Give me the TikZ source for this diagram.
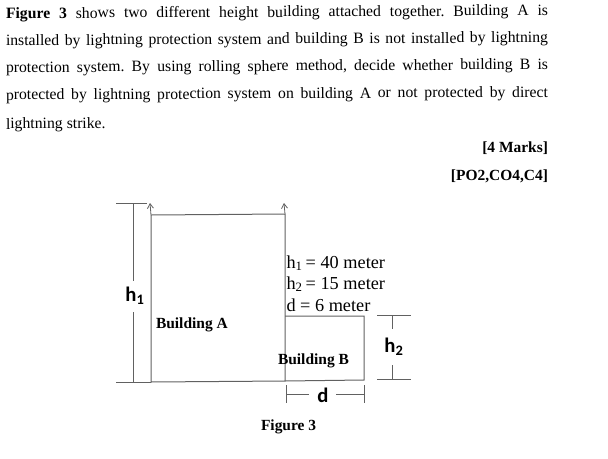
\documentclass[tikz,border=0pt]{standalone}
\usepackage{fontspec}
\setmainfont{Liberation Serif}
\newfontfamily\dimfont{Carlito}
\newcommand{\bodyline}[1]{\makebox[406.5pt][s]{#1}}
\frenchspacing
\tikzset{
  x=0.75pt,y=-0.75pt,
  every node/.style={inner sep=0pt,outer sep=0pt,text=black},
  para/.style={anchor=base west,rotate=0.32,font=\fontsize{11.8}{13}\selectfont},
  bold label/.style={font=\fontsize{11.6}{13}\selectfont\bfseries},
  data/.style={anchor=base west,font=\fontsize{13.7}{15}\selectfont},
  dim label/.style={font=\dimfont\fontsize{15.5}{17}\selectfont\bfseries},
  wall/.style={draw=black!62,line width=0.75pt},
  dimline/.style={draw=black!62,line width=0.6pt},
  rod/.style={draw=black!62,line width=0.6pt,-{Straight Barb[length=3.5pt,width=4.5pt]}}
}
\usetikzlibrary{arrows.meta}
\begin{document}
\begin{tikzpicture}
\useasboundingbox (0,0) rectangle (608,458);
\fill[white] (0,0) rectangle (608,458);
% paragraph
\node[para] (l1) at (6,18.5) {\bodyline{\textbf{Figure 3} shows two different height building attached together. Building A is}};
\node[para] (l2) at (6,45.5) {\bodyline{installed by lightning protection system and building B is not installed by lightning}};
\node[para] (l3) at (6,72.5) {\bodyline{protection system. By using rolling sphere method, decide whether building B is}};
\node[para] (l4) at (6,100) {\bodyline{protected by lightning protection system on building A or not protected by direct}};
\node[para] (l5) at (6,129) {lightning strike.};
\node[bold label,anchor=base east] (marks) at (548,152) {[4 Marks]};
\node[bold label,anchor=base east] (po) at (548,180) {[PO2,CO4,C4]};
% corners
\coordinate (atl) at (151,215);
\coordinate (atr) at (285,214);
\coordinate (abl) at (151,382);
\coordinate (abr) at (285,381);
\coordinate (btl) at (285,316);
\coordinate (btr) at (364,316);
\coordinate (bbr) at (364,380);
\coordinate (rodl) at (150,203);
\coordinate (rodr) at (284,203);
% buildings
\draw[wall] (abr) -- (abl) -- (atl) -- (atr) -- (abr);
\draw[wall] (btl) -- (btr) -- (bbr) -- (abr);
\draw[rod] (atl) -- (rodl);
\draw[rod] (atr) -- (rodr);
% labels
\node[bold label,anchor=base west] (ba) at (156,328) {Building A};
\node[bold label,anchor=base west] (bb) at (278,364) {Building B};
\node[data] (d1) at (286.5,268) {h\textsubscript{1}\,= 40 meter};
\node[data] (d2) at (286.5,289) {h\textsubscript{2}\,= 15 meter};
\node[data] (d3) at (286.5,311) {d = 6 meter};
% h1
\coordinate (h1tl) at (116,203);
\coordinate (h1tr) at (147,203);
\coordinate (h1bl) at (116,382);
\coordinate (h1t) at (133,203);
\coordinate (h1b) at (133,382);
\coordinate (h1u) at (133,281);
\coordinate (h1d) at (133,312);
\node[dim label] (h1) at (135,296) {h\textsubscript{1}};
\draw[dimline] (h1tl) -- (h1tr);
\draw[dimline] (h1bl) -- (abl);
\draw[dimline] (h1t) -- (h1u);
\draw[dimline] (h1d) -- (h1b);
% h2
\coordinate (h2tl) at (377,315);
\coordinate (h2tr) at (411,315);
\coordinate (h2bl) at (377,379);
\coordinate (h2br) at (411,379);
\coordinate (h2t) at (392,315);
\coordinate (h2b) at (392,379);
\coordinate (h2u) at (392,329);
\coordinate (h2d) at (392,365);
\node[dim label] (h2) at (394,347) {h\textsubscript{2}};
\draw[dimline] (h2tl) -- (h2tr);
\draw[dimline] (h2bl) -- (h2br);
\draw[dimline] (h2t) -- (h2u);
\draw[dimline] (h2d) -- (h2b);
% d
\coordinate (dlt) at (286,385);
\coordinate (dlb) at (286,403);
\coordinate (drt) at (364,385);
\coordinate (drb) at (364,403);
\coordinate (dl) at (286,394);
\coordinate (dr) at (364,394);
\coordinate (dgl) at (309,394);
\coordinate (dgr) at (336,394);
\node[dim label] (dd) at (323,395) {d};
\draw[dimline] (dlt) -- (dlb);
\draw[dimline] (drt) -- (drb);
\draw[dimline] (dl) -- (dgl);
\draw[dimline] (dgr) -- (dr);
% caption
\node[bold label,anchor=base west] (cap) at (261,430) {Figure 3};
\end{tikzpicture}
\end{document}
